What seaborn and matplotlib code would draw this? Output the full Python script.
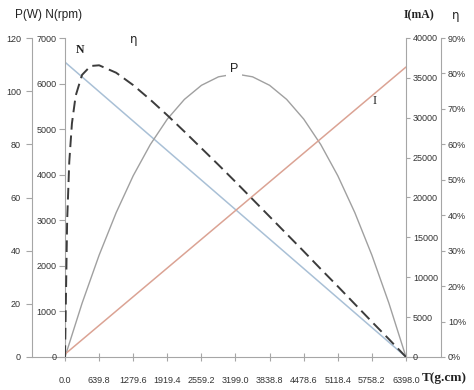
import matplotlib
matplotlib.use("Agg")
import matplotlib.pyplot as plt
from matplotlib.lines import Line2D
import seaborn as sns
import pandas as pd
import numpy as np

# ---------------- data ----------------
torque_ticks = [0.0, 639.8, 1279.6, 1919.4, 2559.2, 3199.0, 3838.8, 4478.6, 5118.4, 5758.2, 6398.0]
speed_rpm = [6470, 5823, 5176, 4529, 3882, 3235, 2588, 1941, 1294, 647, 0]
current_mA = [360, 3960, 7560, 11160, 14760, 18360, 21960, 25560, 29160, 32760, 36360]

power_T = [0, 320, 640, 960, 1280, 1600, 1920, 2240, 2560, 2880, 3199,
           3519, 3839, 4159, 4479, 4799, 5118, 5438, 5758, 6078, 6398]
power_W = [0, 20.2, 38.3, 54.3, 68.2, 79.9, 89.5, 96.9, 102.2, 105.4, 106.5,
           105.4, 102.2, 96.9, 89.5, 79.9, 68.2, 54.3, 38.3, 20.2, 0]

eff_T = [0, 40, 80, 130, 200, 320, 480, 640, 960, 1280, 1600, 1920, 2240, 2560,
         2880, 3200, 3520, 3840, 4160, 4480, 4800, 5120, 5440, 5760, 6080, 6398]
eff_pct = [0, 38.3, 55.0, 65.9, 73.7, 79.6, 82.1, 82.3, 80.2, 76.7, 72.6, 68.2, 63.6, 58.9,
           54.2, 49.4, 44.5, 39.6, 34.7, 29.8, 24.8, 19.9, 14.9, 9.9, 5.0, 0]

p_ticks = [0, 20, 40, 60, 80, 100, 120]
n_ticks = [0, 1000, 2000, 3000, 4000, 5000, 6000, 7000]
i_ticks = [0, 5000, 10000, 15000, 20000, 25000, 30000, 35000, 40000]
e_ticks = [0, 10, 20, 30, 40, 50, 60, 70, 80, 90]

df_lin = pd.DataFrame({"T": torque_ticks, "N": speed_rpm, "I": current_mA})
df_p = pd.DataFrame({"T": power_T, "P": power_W})
df_e = pd.DataFrame({"T": eff_T, "eta": eff_pct})

# ---------------- style ----------------
sns.set_style("white")
plt.rcParams["font.family"] = ["Liberation Sans", "DejaVu Sans"]
spine_c = "#a6a6a6"
txt_c = "#333333"
W, H = 474, 390
PX = 72 / 100  # points per pixel at dpi 100

fig = plt.figure(figsize=(W / 100, H / 100), dpi=100)
ax = fig.add_axes([65 / W, 33 / H, 341 / W, 319 / H])
axP = ax.twinx()
axI = ax.twinx()
axE = ax.twinx()

for a in (ax, axP, axI, axE):
    for s in a.spines.values():
        s.set_visible(False)
    a.set_facecolor("none")
    a.grid(False)

# N axis (inner left)
sns.lineplot(data=df_lin, x="T", y="N", ax=ax, color="#a9c0d6", lw=1.1)
ax.set_ylim(0, 7000)
ax.set_yticks(n_ticks)
ax.spines["left"].set_visible(True)
ax.spines["left"].set_color(spine_c)
ax.tick_params(axis="y", colors=spine_c, labelcolor=txt_c, labelsize=6.5,
               length=4, width=0.8, pad=2, direction="out")

# P axis (outer left)
sns.lineplot(data=df_p, x="T", y="P", ax=axP, color="#a0a0a0", lw=1.0)
axP.set_ylim(0, 120)
axP.yaxis.set_ticks_position("left")
axP.yaxis.set_label_position("left")
axP.spines["left"].set_visible(True)
axP.spines["left"].set_position(("outward", 33 * PX))
axP.spines["left"].set_color(spine_c)
axP.set_yticks(p_ticks)
axP.tick_params(axis="y", colors=spine_c, labelcolor=txt_c, labelsize=6.5,
                length=4, width=0.8, pad=4, direction="out")

# I axis (inner right)
sns.lineplot(data=df_lin, x="T", y="I", ax=axI, color="#dba394", lw=1.1)
axI.set_ylim(0, 40000)
axI.set_yticks(i_ticks)
axI.spines["right"].set_visible(True)
axI.spines["right"].set_color(spine_c)
axI.tick_params(axis="y", colors=spine_c, labelcolor=txt_c, labelsize=6.5,
                length=3, width=0.8, pad=2, direction="out")

# eta axis (outer right)
sns.lineplot(data=df_e, x="T", y="eta", ax=axE, color="#3c3c3c", lw=1.4,
             dashes=False, linestyle=(0, (6, 3)))
axE.set_ylim(0, 90)
axE.set_yticks(e_ticks)
axE.set_yticklabels([f"{v}%" for v in e_ticks])
axE.spines["right"].set_visible(True)
axE.spines["right"].set_position(("outward", 35 * PX))
axE.spines["right"].set_color(spine_c)
axE.tick_params(axis="y", colors=spine_c, labelcolor=txt_c, labelsize=6.5,
                length=3, width=0.8, pad=2, direction="out")

for a in (ax, axP, axI, axE):
    a.set_ylabel("")
    a.set_xlabel("")

ax.set_xlim(0, 6398)
ax.set_xticks(torque_ticks)
ax.set_xticklabels([f"{v:.1f}" for v in torque_ticks])
ax.tick_params(axis="x", colors=spine_c, labelcolor=txt_c, labelsize=6.5,
               length=6, width=0.8, pad=11, direction="inout", bottom=True)

# bottom baseline spanning from P axis to eta axis
fig.add_artist(Line2D([32 / W, 441 / W], [33 / H, 33 / H], color=spine_c, lw=0.8, zorder=0))

# axis titles
fig.text(15 / W, 1 - 15 / H, "P(W) N(rpm)", fontsize=8.5, color="#222222",
         ha="left", va="center")
fig.text(404 / W, 1 - 15 / H, "I(mA)", fontsize=8.5, fontweight="bold", color="#222222",
         family=["Liberation Serif", "DejaVu Serif"], ha="left", va="center")
fig.text(456 / W, 1 - 16 / H, "η", fontsize=8.5, color="#222222",
         family=["DejaVu Sans"], ha="center", va="center")
fig.text(422 / W, 1 - 378 / H, "T(g.cm)", fontsize=9.5, fontweight="bold", color="#222222",
         family=["Liberation Serif", "DejaVu Serif"], ha="left", va="center")

# curve labels
fig.text(80 / W, 1 - 50 / H, "N", fontsize=8.5, fontweight="bold", color="#222222",
         family=["Liberation Serif", "DejaVu Serif"], ha="center", va="center")
fig.text(134 / W, 1 - 40 / H, "η", fontsize=8.5, color="#222222",
         family=["DejaVu Sans"], ha="center", va="center")
fig.text(234 / W, 1 - 69 / H, "P", fontsize=9, color="#222222", ha="center", va="center",
         bbox=dict(facecolor="white", edgecolor="none", pad=2.5), zorder=5)
fig.text(375 / W, 1 - 101 / H, "I", fontsize=9, color="#222222",
         family=["Liberation Serif", "DejaVu Serif"], ha="center", va="center")

fig.savefig("out.png", dpi=100, facecolor="white")
